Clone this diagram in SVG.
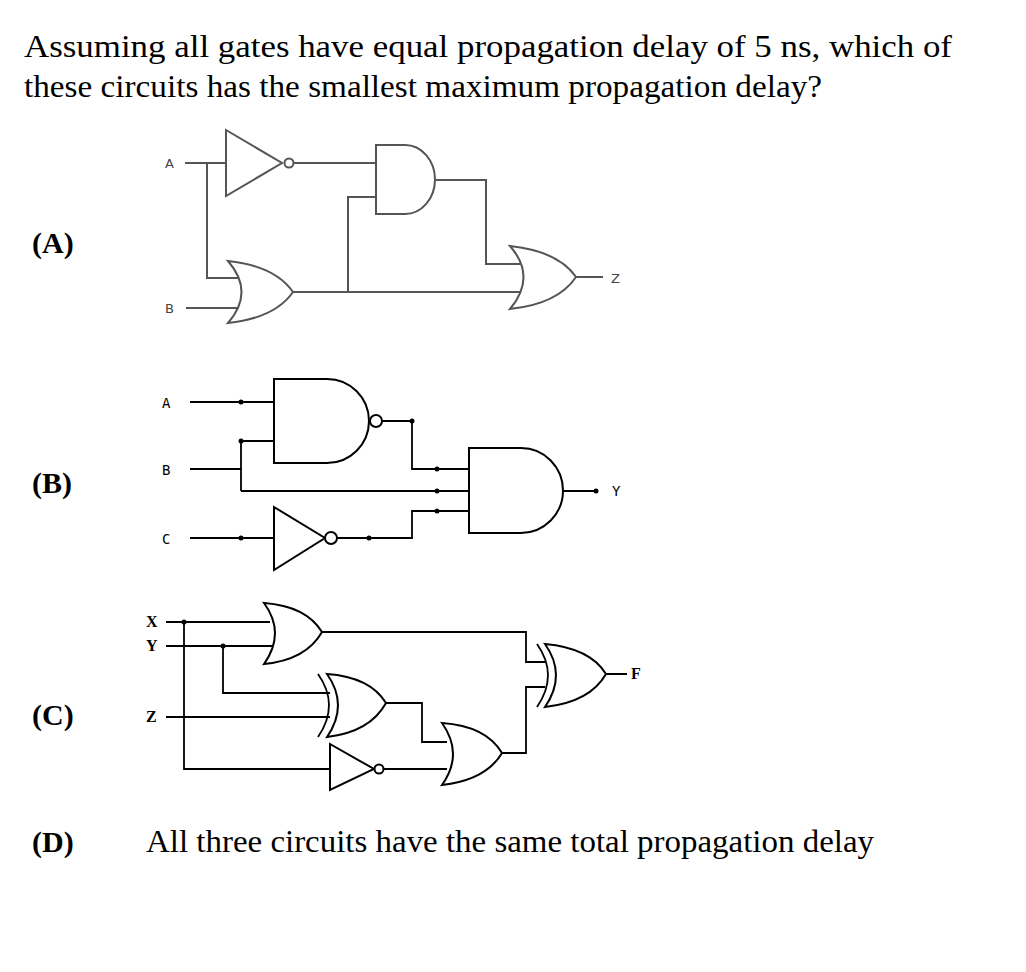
<svg xmlns="http://www.w3.org/2000/svg" width="1026" height="972" viewBox="0 0 1026 972">
<style>
.q{font-family:"Liberation Serif",serif;font-size:31px;fill:#000}
.opt{font-family:"Liberation Serif",serif;font-size:30px;font-weight:bold;fill:#000}
.ga{fill:#fff;stroke:#555;stroke-width:2}
.wa{fill:none;stroke:#555;stroke-width:2}
.gb{fill:#fff;stroke:#000;stroke-width:2}
.wb{fill:none;stroke:#000;stroke-width:1.8}
.la{font-family:"DejaVu Sans",sans-serif;font-size:13px;fill:#444}
.lb{font-family:"DejaVu Sans Mono",monospace;font-size:14px;fill:#000}
.lc{font-family:"Liberation Serif",serif;font-size:16px;font-weight:bold;fill:#000}
.d{fill:#000}
</style>
<rect width="1026" height="972" fill="#fff"/>
<text class="q" x="24" y="57" textLength="928" lengthAdjust="spacingAndGlyphs">Assuming all gates have equal propagation delay of 5 ns, which of</text>
<text class="q" x="24" y="97" textLength="798" lengthAdjust="spacingAndGlyphs">these circuits has the smallest maximum propagation delay?</text>
<text class="opt" x="32" y="253">(A)</text>
<text class="opt" x="32" y="493">(B)</text>
<text class="opt" x="32" y="725">(C)</text>
<text class="opt" x="32" y="852">(D)</text>
<text class="q" x="146" y="852" textLength="728" lengthAdjust="spacingAndGlyphs">All three circuits have the same total propagation delay</text>

<g id="connectors">
<path class="wa" d="M185,163H226 M207,163V278H240 M186,308H240 M293,292H525 M294,163H376 M348,292V197H376 M436,180H486V264H523 M576,277H603"/>
<path class="wb" d="M190,402H274 M190,469H241 M241,441V491 M241,441H274 M241,491H469 M382,421H412V469H469 M190,538H274 M337,538H412V511H469 M563,491H596"/>
<path class="wb" d="M166,622H270 M166,646H272 M184,622V769H330 M223,646V693H330 M166,717H330 M322,632H526V662H545 M386,703H422V742H447 M383,769H447 M502,753H526V687H545 M606,674H627"/>
</g>
<g id="dots">
<circle class="d" cx="241" cy="402" r="2.5"/><circle class="d" cx="241" cy="441" r="2.5"/><circle class="d" cx="412" cy="421" r="2.5"/>
<circle class="d" cx="437" cy="469" r="2.5"/><circle class="d" cx="437" cy="491" r="2.5"/><circle class="d" cx="437" cy="511" r="2.5"/>
<circle class="d" cx="241" cy="538" r="2.5"/><circle class="d" cx="369" cy="538" r="2.5"/><circle class="d" cx="596" cy="491" r="2.5"/>
<circle class="d" cx="184" cy="622" r="2.5"/><circle class="d" cx="223" cy="646" r="2.5"/>
</g>

<g id="circuitA">
<g id="a-not"><path class="ga" d="M226,130L282,163L226,196Z"/><circle class="ga" cx="289" cy="163" r="4.5"/></g>
<g id="a-and"><path class="ga" d="M376,145H405A30,34.5 0 0 1 405,214H376Z"/></g>
<g id="a-or1"><path class="ga" d="M228,261Q255,292 228,323Q275,318 293,292Q275,266 228,261Z"/></g>
<g id="a-or2"><path class="ga" d="M510,246Q537,277 510,309Q558,304 576,277Q558,251 510,246Z"/></g>
<text class="la" x="165" y="168">A</text>
<text class="la" x="165" y="313">B</text>
<text class="la" x="611" y="283">Z</text>
</g>

<g id="circuitB">
<g id="b-nand"><path class="gb" d="M274,379H327A42,42 0 0 1 327,463H274Z"/><circle class="gb" cx="376" cy="421" r="6"/></g>
<g id="b-not"><path class="gb" d="M274,507L325,538L274,570Z"/><circle class="gb" cx="331" cy="538" r="6"/></g>
<g id="b-and"><path class="gb" d="M469,448H521A42,42.5 0 0 1 521,533H469Z"/></g>
<text class="lb" x="162" y="408">A</text>
<text class="lb" x="162" y="475">B</text>
<text class="lb" x="162" y="544">C</text>
<text class="lb" x="612" y="496">Y</text>
</g>

<g id="circuitC">
<g id="c-or1"><path class="gb" d="M264,603Q286,633 264,664Q306,660 322,632Q306,606 264,603Z"/></g>
<g id="c-xor1"><path class="gb" d="M327,674Q349,705 327,737Q370,732 386,703Q370,677 327,674Z"/><path class="wb" d="M318,674Q340,705 318,737"/></g>
<g id="c-not"><path class="gb" d="M330,744L374,769L330,790Z"/><circle class="gb" cx="379" cy="769" r="4.5"/></g>
<g id="c-or2"><path class="gb" d="M442,723Q464,754 442,785Q486,780 502,753Q486,726 442,723Z"/></g>
<g id="c-xor2"><path class="gb" d="M545,644Q567,675 545,707Q590,702 606,674Q590,648 545,644Z"/><path class="wb" d="M537,644Q559,675 537,707"/></g>
<text class="lc" x="146" y="627">X</text>
<text class="lc" x="146" y="651">Y</text>
<text class="lc" x="146" y="722">Z</text>
<text class="lc" x="631" y="679">F</text>
</g>
</svg>
